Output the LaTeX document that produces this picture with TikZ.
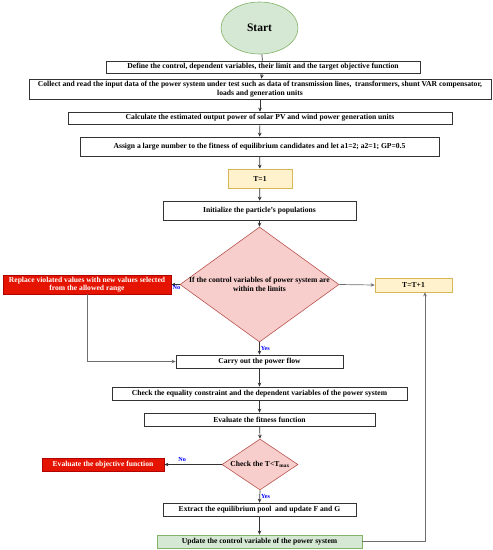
\documentclass[tikz,border=0pt]{standalone}
\usepackage{fontspec}
\setmainfont{Liberation Serif}
\usetikzlibrary{shapes.geometric,arrows.meta}

\definecolor{boxline}{HTML}{333333}
\definecolor{loopline}{HTML}{6E6E6E}
\definecolor{yelfill}{HTML}{FFF2CC}
\definecolor{yelline}{HTML}{D6B656}
\definecolor{grnfill}{HTML}{D5E8D4}
\definecolor{grnline}{HTML}{82B366}
\definecolor{pinkfill}{HTML}{F8CECC}
\definecolor{pinkline}{HTML}{B85450}
\definecolor{redfill}{HTML}{E51400}
\definecolor{redline}{HTML}{B20000}
\definecolor{yesno}{HTML}{0000FF}

\begin{document}
\begin{tikzpicture}[x=1pt,y=-1pt,
    font=\fontsize{7.6}{8.6}\selectfont\bfseries,
    stepbox/.style={draw=boxline,line width=0.7pt,fill=white,inner sep=0pt,align=center},
    yelbox/.style={stepbox,draw=yelline,fill=yelfill},
    grnbox/.style={stepbox,draw=grnline,fill=grnfill},
    redbox/.style={stepbox,draw=redline,fill=redfill,text=white},
    decide/.style={diamond,draw=pinkline,fill=pinkfill,line width=0.6pt,inner sep=0pt},
    flow/.style={-{Stealth[length=4pt,width=3.6pt]},line width=0.7pt,draw=boxline},
    loop/.style={-{Stealth[length=4pt,width=3.6pt]},line width=0.7pt,draw=loopline},
    answer/.style={text=yesno,font=\fontsize{6.2}{7}\selectfont\bfseries,inner sep=1pt}]
    \useasboundingbox (0,0) rectangle (493,550);

    % Start
    \node[ellipse,draw=grnline,fill=grnfill,line width=0.6pt,minimum width=77pt,minimum height=52pt,
          font=\fontsize{11.5}{12}\selectfont\bfseries] (start) at (259.5,28) {Start};

    % Preparation steps
    \node[stepbox,minimum width=314pt,minimum height=12pt] (define) at (263,67)
        {Define the control, dependent variables, their limit and the target objective function};
    \node[stepbox,minimum width=462pt,minimum height=20pt] (collect) at (260,89)
        {Collect and read the input data of the power system under test such as data of transmission lines,\ \ transformers, shunt VAR compensator,\\ loads and generation units};
    \node[stepbox,minimum width=384pt,minimum height=12pt] (calc) at (260,118)
        {Calculate the estimated output power of solar PV and wind power generation units};
    \node[stepbox,minimum width=359pt,minimum height=19pt] (assign) at (259.5,146.5)
        {Assign a large number to the fitness of equilibrium candidates and let a1=2; a2=1; GP=0.5};
    \node[yelbox,minimum width=64pt,minimum height=19pt] (tone) at (260,178.5) {T=1};
    \node[stepbox,minimum width=193pt,minimum height=19pt] (init) at (259.5,210.5)
        {Initialize the particle's populations};

    % First decision
    \node[decide,minimum width=159pt,minimum height=115pt] (limits) at (259.5,284.5) {};
    \node[align=center,inner sep=0pt] (limitstext) at (limits.center)
        {If the control variables of power system are\\ within the limits};
    \node[redbox,minimum width=168pt,minimum height=19pt] (replace) at (87,284.5)
        {Replace violated values with new values selected\\ from the allowed range};
    \node[yelbox,minimum width=77pt,minimum height=14pt] (tplus) at (413.5,285) {T=T+1};

    % Power flow steps
    \node[stepbox,minimum width=167pt,minimum height=13pt] (carry) at (259.5,361.5)
        {Carry out the power flow};
    \node[stepbox,minimum width=295pt,minimum height=13pt] (check) at (259.5,393.5)
        {Check the equality constraint and the dependent variables of the power system};
    \node[stepbox,minimum width=231pt,minimum height=13pt] (fitness) at (259.5,419.5)
        {Evaluate the fitness function};

    % Second decision
    \node[decide,minimum width=76pt,minimum height=51pt] (tmax) at (260,464.5) {};
    \node[inner sep=0pt] (tmaxtext) at (tmax.center) {Check the T\textless T\textsubscript{max}};
    \node[redbox,minimum width=122pt,minimum height=13pt] (objective) at (103,464.5)
        {Evaluate the objective function};
    \node[stepbox,minimum width=193pt,minimum height=13pt] (extract) at (259.5,509.5)
        {Extract the equilibrium pool\ \ and update F and G};
    \node[grnbox,minimum width=205pt,minimum height=13pt] (update) at (259.5,541.5)
        {Update the control variable of the power system};

    % Arrows
    \draw[line width=0.7pt,draw=boxline] (start) -- (define);
    \draw[flow] (define) -- (collect);
    \draw[flow] (collect) -- (calc);
    \draw[flow] (calc) -- (assign);
    \draw[flow] (assign) -- (tone);
    \draw[flow] (tone) -- (init);
    \draw[flow] (init) -- (limits.north);
    \draw[flow] (limits.west) -- (replace.east) node[answer,pos=0.4,below] (nolimits) {No};
    \draw[loop] (limits.east) -- (tplus.west);
    \draw[flow] (limits.south) -- (carry.north) node[answer,midway,right] (yeslimits) {Yes};
    \draw[loop] (replace.south) |- (carry.west);
    \draw[flow] (carry) -- (check);
    \draw[flow] (check) -- (fitness);
    \draw[flow] (fitness) -- (tmax.north);
    \draw[flow] (tmax.west) -- (objective.east) node[answer,pos=0.69,above=2pt] (notmax) {No};
    \draw[flow] (tmax.south) -- (extract.north) node[answer,midway,right] (yestmax) {Yes};
    \draw[flow] (extract) -- (update);
    \draw[loop] (update.east) -| ([xshift=11.5pt]tplus.south);
\end{tikzpicture}
\end{document}
